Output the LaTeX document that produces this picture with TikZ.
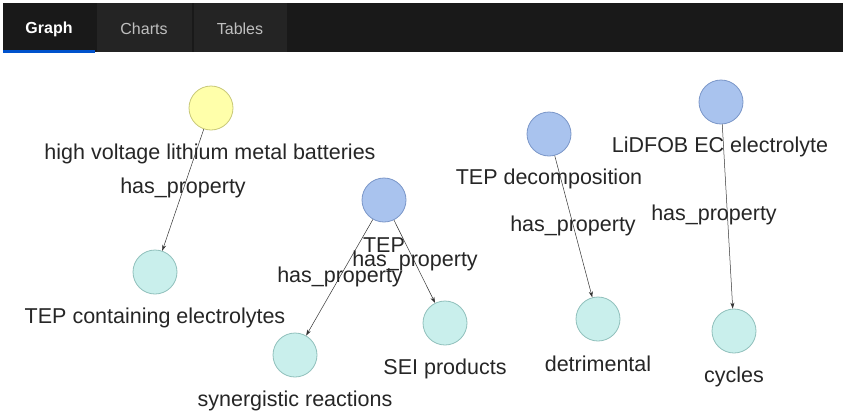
\documentclass[tikz,border=0pt]{standalone}
\usepackage{fontspec}
\setmainfont{Liberation Sans}
\usetikzlibrary{arrows.meta}
\definecolor{ybg}{HTML}{FFFFAA}\definecolor{ybd}{HTML}{C8C878}
\definecolor{bbg}{HTML}{A9C3EE}\definecolor{bbd}{HTML}{7A96C8}
\definecolor{cbg}{HTML}{C9EFEC}\definecolor{cbd}{HTML}{90C0BC}
\begin{document}
\begin{tikzpicture}[x=1pt,y=-1pt,
  nd/.style={circle,minimum size=44pt,inner sep=0pt,line width=0.8pt},
  yn/.style={nd,fill=ybg,draw=ybd},
  bn/.style={nd,fill=bbg,draw=bbd},
  cn/.style={nd,fill=cbg,draw=cbd},
  lb/.style={font=\fontsize{21.5}{24}\selectfont,text=black!85,inner sep=0pt},
  ed/.style={draw=black!80,line width=0.5pt,-{Stealth[length=6pt,width=4pt]}},
  tab/.style={font=\fontsize{16}{19}\selectfont,text=black!25,inner sep=0pt}]
\useasboundingbox (0,0) rectangle (846,418);
\fill[white] (0,0) rectangle (846,418);
\fill[black!90] (3,3) rectangle (843,52);
\fill[black!86] (97,3) rectangle (192,52);
\fill[black!86] (194,3) rectangle (287,52);
\fill[blue!60!cyan!80!black] (3,50) rectangle (95,53);
\node[tab,text=white,font=\fontsize{16}{19}\selectfont\bfseries] (t1) at (49,29) {Graph};
\node[tab] (t2) at (144,29) {Charts};
\node[tab] (t3) at (240,29) {Tables};
\node[yn] (a) at (211,108) {};
\node[cn] (b) at (155,272) {};
\node[bn] (c) at (384,200) {};
\node[cn] (d) at (295,355) {};
\node[cn] (e) at (445,323) {};
\node[bn] (f) at (549,134) {};
\node[cn] (g) at (598,319) {};
\node[bn] (h) at (721,102) {};
\node[cn] (i) at (734,331) {};
\draw[ed] (a) -- (b);
\draw[ed] (c) -- (d);
\draw[ed] (c) -- (e);
\draw[ed] (f) -- (g);
\draw[ed] (h) -- (i);
\node[lb] (la) at (210,154) {high voltage lithium metal batteries};
\node[lb] (lb) at (155,318) {TEP containing electrolytes};
\node[lb] (lc) at (384,245) {TEP};
\node[lb] (ld) at (295,401) {synergistic reactions};
\node[lb] (le) at (445,369) {SEI products};
\node[lb] (lf) at (549,179) {TEP decomposition};
\node[lb] (lg) at (598,364) {detrimental};
\node[lb] (lh) at (720,147) {LiDFOB EC electrolyte};
\node[lb] (li) at (734,377) {cycles};
\node[lb] (e1) at (183,188) {has\_property};
\node[lb] (e2) at (340,277) {has\_property};
\node[lb] (e3) at (415,261) {has\_property};
\node[lb] (e4) at (573,226) {has\_property};
\node[lb] (e5) at (714,215) {has\_property};
\end{tikzpicture}
\end{document}
